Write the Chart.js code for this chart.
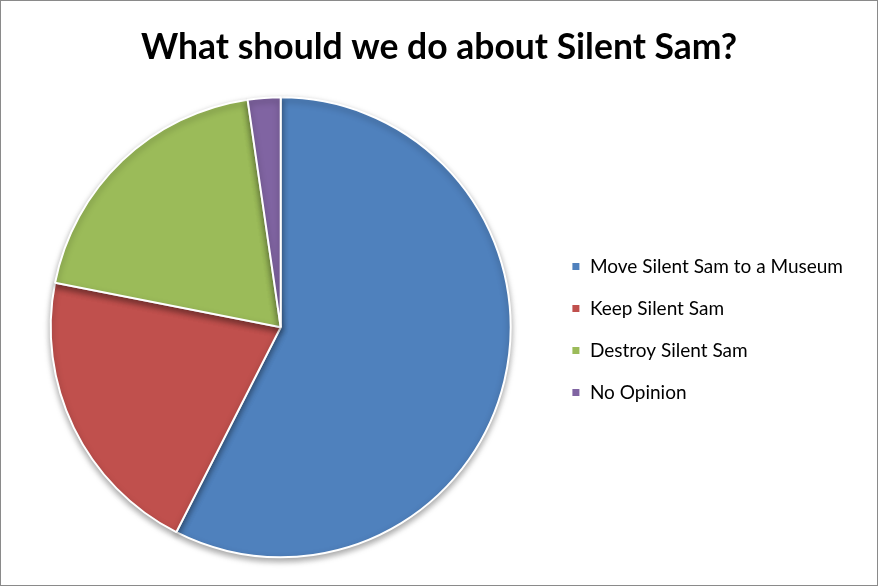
<!DOCTYPE html>
<html lang="en">
<head>
    <meta charset="UTF-8">
    <title>What should we do about Silent Sam?</title>
    <script src="https://cdn.jsdelivr.net/npm/chart.js"></script>
    <style>
        html, body {
            margin: 0;
            padding: 0;
            background: #fff;
        }
        .frame {
            width: 878px;
            height: 586px;
            box-sizing: border-box;
            border: 1px solid #8a8a8a;
            position: relative;
        }
        #pie {
            display: block;
        }
    </style>
</head>
<body>
    <div class="frame">
        <canvas id="pie" width="876" height="584"></canvas>
    </div>

    <script>
        // Poll answers (share of responses)
        const answers = ['Move Silent Sam to a Museum', 'Keep Silent Sam', 'Destroy Silent Sam', 'No Opinion'];
        const shares = [57.5, 20.6, 19.6, 2.3];
        const sliceColors = ['#4F81BD', '#C0504D', '#9BBB59', '#8064A2'];

        // soft drop shadow under the pie, like the office chart
        const pieShadow = {
            id: 'pieShadow',
            beforeDatasetsDraw(chart) {
                const ctx = chart.ctx;
                ctx.save();
                ctx.shadowColor = 'rgba(0,0,0,0.35)';
                ctx.shadowBlur = 6;
                ctx.shadowOffsetY = 3;
            },
            afterDatasetsDraw(chart) {
                chart.ctx.restore();
            }
        };

        // widen the legend box a bit on its right side so the layout padding
        // can stay symmetric and the title is centred on the whole canvas
        const widerLegend = {
            id: 'widerLegend',
            beforeInit(chart) {
                const fit = chart.legend.fit;
                chart.legend.fit = function () {
                    fit.call(this);
                    this.width += 12;
                };
            }
        };

        const ctx = document.getElementById('pie').getContext('2d');
        new Chart(ctx, {
            type: 'pie',
            data: {
                labels: answers,
                datasets: [{
                    data: shares,
                    backgroundColor: sliceColors,
                    borderColor: '#fff',
                    borderWidth: 2,
                    hoverOffset: 0
                }]
            },
            options: {
                responsive: false,
                animation: false,
                radius: 230,
                layout: {
                    padding: { left: 12, right: 12, top: 0, bottom: 28 }
                },
                plugins: {
                    title: {
                        display: true,
                        text: 'What should we do about Silent Sam?',
                        color: '#000',
                        font: { family: 'Lato', size: 35.5, weight: 'bold' },
                        padding: { top: 25, bottom: 29 }
                    },
                    legend: {
                        position: 'right',
                        align: 'start',
                        // empty legend title used only as a spacer so the items sit mid-height
                        title: {
                            display: true,
                            text: ' ',
                            font: { size: 10 },
                            padding: { top: 0, bottom: 221 }
                        },
                        labels: {
                            color: '#000',
                            font: { family: 'Lato', size: 19 },
                            boxWidth: 9,
                            boxHeight: 9,
                            padding: 23
                        }
                    },
                    tooltip: { enabled: false }
                }
            },
            plugins: [pieShadow, widerLegend]
        });
    </script>
</body>
</html>
